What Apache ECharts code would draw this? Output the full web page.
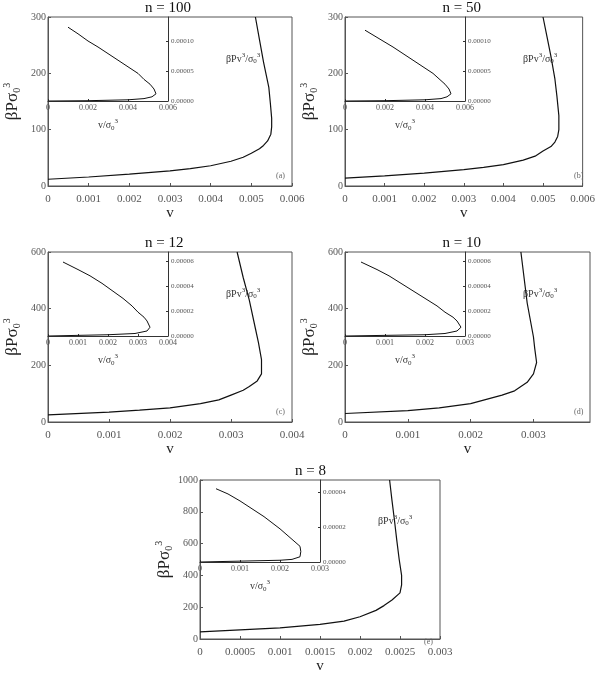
<!DOCTYPE html><html><head><meta charset="utf-8"><script src="https://cdn.jsdelivr.net/npm/echarts@6/dist/echarts.min.js"></script></head><body style="margin:0;background:#fff"><div id="c" style="width:598px;height:675px"></div><script>
const titles=["n = 100","n = 50","n = 12","n = 10","n = 8"];
const tags=["(a)","(b)","(c)","(d)","(e)"];
const mainX=[[0,0.006,0.001],[0,0.006,0.001],[0,0.004,0.001],[0,0.0039,0.001],[0,0.003,0.0005]];
const mainY=[[0,300,100],[0,300,100],[0,600,200],[0,600,200],[0,1000,200]];
const insX=[[0,0.006,0.002],[0,0.006,0.002],[0,0.004,0.001],[0,0.003,0.001],[0,0.003,0.001]];
const insY=[[0,0.00014,0.00005],[0,0.00014,0.00005],[0,0.000067,0.00002],[0,0.000067,0.00002],[0,0.000047,0.00002]];
const mainA=[[0,12],[0.001,16],[0.002,21],[0.003,27],[0.0035,31],[0.004,36],[0.0045,44],[0.0048,51],[0.005,58],[0.0052,66],[0.0053,72],[0.0054,80],[0.00548,92],[0.0055,105],[0.0055,120],[0.00547,145],[0.00543,175],[0.0053,220],[0.0052,260],[0.0051,300]];
const mainB=[[0,14],[0.001,18],[0.002,23],[0.003,29],[0.0035,33],[0.004,38],[0.0045,46],[0.0048,53],[0.005,62],[0.0052,70],[0.0053,78],[0.00537,88],[0.0054,100],[0.0054,125],[0.00535,160],[0.0053,190],[0.0052,230],[0.0051,265],[0.0050,300]];
const mainC=[[0,25],[0.001,35],[0.0015,42],[0.002,50],[0.0025,65],[0.0028,78],[0.003,95],[0.0032,112],[0.0033,125],[0.00343,145],[0.0035,170],[0.0035,220],[0.00345,280],[0.0034,330],[0.0033,430],[0.0032,510],[0.0031,600]];
const mainD=[[0,30],[0.001,40],[0.0015,50],[0.002,65],[0.0025,95],[0.0027,110],[0.0028,125],[0.0029,140],[0.003,170],[0.00305,210],[0.00302,260],[0.003,300],[0.0029,420],[0.00285,510],[0.0028,600]];
const mainE=[[0,45],[0.0005,58],[0.001,70],[0.0015,92],[0.0018,112],[0.002,140],[0.0022,180],[0.0023,210],[0.0024,245],[0.0025,290],[0.00252,340],[0.00252,400],[0.00249,500],[0.00246,620],[0.00243,750],[0.0024,870],[0.00237,1000]];
const insA=[[0,0],[0.002,0.0000005],[0.004,0.000002],[0.0048,0.000004],[0.0052,0.000007],[0.0054,0.000012],[0.0053,0.00002],[0.0051,0.000028],[0.0048,0.000036],[0.0045,0.000046],[0.004,0.000057],[0.0035,0.000068],[0.003,0.000079],[0.0025,0.00009],[0.002,0.0001],[0.0015,0.000112],[0.001,0.000123]];
const insB=[[0,0],[0.002,0.0000005],[0.004,0.000002],[0.0048,0.000004],[0.0051,0.000007],[0.0053,0.000012],[0.0052,0.00002],[0.005,0.000028],[0.0047,0.000037],[0.0044,0.000046],[0.0039,0.000057],[0.0034,0.000068],[0.0029,0.000079],[0.0024,0.00009],[0.0019,0.0001],[0.0015,0.000108],[0.001,0.000118]];
const insC=[[0,0],[0.001,0.0000005],[0.002,0.000001],[0.0029,0.000002],[0.0033,0.000004],[0.0034,0.000007],[0.0033,0.000012],[0.0032,0.000015],[0.003,0.000019],[0.0028,0.000024],[0.0025,0.00003],[0.0018,0.000042],[0.0014,0.000048],[0.001,0.000053],[0.0005,0.000059]];
const insD=[[0,0],[0.001,0.0000005],[0.002,0.000001],[0.0025,0.000002],[0.0028,0.000004],[0.0029,0.000007],[0.0028,0.000012],[0.0027,0.000015],[0.0025,0.000019],[0.0023,0.000024],[0.002,0.00003],[0.0014,0.000042],[0.0011,0.000048],[0.0008,0.000053],[0.0004,0.000059]];
const insE=[[0,0],[0.001,0.0000005],[0.002,0.000001],[0.0023,0.0000015],[0.0025,0.000003],[0.00252,0.000006],[0.0025,0.000009],[0.0024,0.000011],[0.0022,0.000015],[0.002,0.000019],[0.0016,0.000026],[0.0012,0.000032],[0.001,0.000035],[0.0007,0.000039],[0.0004,0.000042]];
const mains=[mainA,mainB,mainC,mainD,mainE], ins=[insA,insB,insC,insD,insE];
const boxes=[[48,17,292,186,168,101],[345,17,590,186,465,101],[48,252,292,422,168,336],[345,252,590,422,465,336],[200,480,440,652,320,562]];
const F='Liberation Serif';
const grid=[],xAxis=[],yAxis=[],series=[],graphic=[];
const trim=v=>v===0?'0':String(+v.toPrecision(6));
const fix5=v=>v.toFixed(5);
boxes.forEach((b,i)=>{
 const [l,t,r,bt,ir,ib]=b;
 grid.push({left:l,top:t,width:r-l,height:bt-t,show:true,borderColor:'#555',borderWidth:1});
 grid.push({left:l,top:t,width:ir-l,height:ib-t});
 const gm=2*i,gi=2*i+1;
 xAxis.push({gridIndex:gm,type:'value',min:mainX[i][0],max:mainX[i][1],interval:mainX[i][2],axisLine:{lineStyle:{color:'#555'}},axisTick:{inside:true,length:3},splitLine:{show:false},axisLabel:{fontFamily:F,fontSize:11,color:'#555',formatter:trim,showMaxLabel:i!=3},name:'v',nameLocation:'middle',nameGap:20,nameTextStyle:{fontFamily:F,fontSize:15,color:'#222'}});
 yAxis.push({gridIndex:gm,type:'value',min:mainY[i][0],max:mainY[i][1],interval:mainY[i][2],axisLine:{lineStyle:{color:'#555'}},axisTick:{inside:true,length:3},splitLine:{show:false},axisLabel:{fontFamily:F,fontSize:10,color:'#555',margin:2,formatter:v=>String(v)},name:'βPσ{s|0}{p|3}',nameLocation:'middle',nameGap:24,nameTextStyle:{fontFamily:F,fontSize:17,color:'#222',rich:{s:{fontSize:10,fontFamily:F,padding:[8,0,0,0]},p:{fontSize:10,fontFamily:F,padding:[0,0,12,0]}}}});
 xAxis.push({gridIndex:gi,type:'value',min:insX[i][0],max:insX[i][1],interval:insX[i][2],axisLine:{onZero:false,lineStyle:{color:'#333'}},axisTick:{inside:true,length:2},splitLine:{show:false},axisLabel:{fontFamily:F,fontSize:8,color:'#555',margin:3,formatter:trim},name:'v/σ{s|0}{p|3}',nameLocation:'middle',nameGap:17,nameTextStyle:{fontFamily:F,fontSize:10,color:'#333',rich:{s:{fontSize:7,padding:[5,0,0,0]},p:{fontSize:7,padding:[0,0,8,0]}}}});
 yAxis.push({gridIndex:gi,type:'value',position:'right',min:insY[i][0],max:insY[i][1],interval:insY[i][2],axisLine:{show:true,onZero:false,lineStyle:{color:'#333'}},axisTick:{show:true,inside:true,length:2},splitLine:{show:false},axisLabel:{fontFamily:F,fontSize:7,color:'#555',margin:3,formatter:fix5,showMaxLabel:false},name:'βPv{p|3}/σ{s|0}{p|3}',nameLocation:'middle',nameRotate:0,nameGap:58,nameTextStyle:{fontFamily:F,fontSize:10,color:'#333',rich:{s:{fontSize:7,padding:[5,0,0,0]},p:{fontSize:7,padding:[0,0,8,0]}}}});
 series.push({type:'line',xAxisIndex:gm,yAxisIndex:gm,data:mains[i],showSymbol:false,lineStyle:{color:'#111',width:1.2}});
 series.push({type:'line',xAxisIndex:gi,yAxisIndex:gi,data:ins[i],showSymbol:false,lineStyle:{color:'#111',width:1}});
 graphic.push({type:'text',left:(l+r)/2-25,top:t-16,style:{text:titles[i],font:'15px '+F,fill:'#111'}});
 graphic.push({type:'text',left:r-16,top:bt-14,style:{text:tags[i],font:'8px '+F,fill:'#666'}});
});
const ch=echarts.init(document.getElementById('c'));
ch.setOption({animation:false,backgroundColor:'#fff',grid,xAxis,yAxis,series,graphic});
</script></body></html>
